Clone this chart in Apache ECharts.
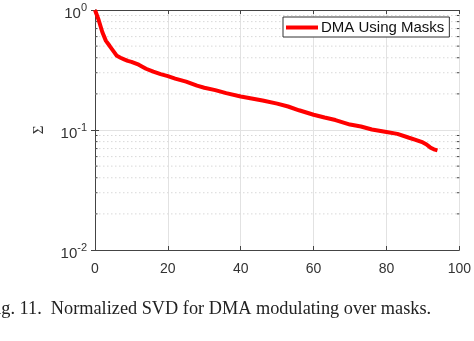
<!DOCTYPE html>
<html><head><meta charset="utf-8">
<script src="https://cdn.jsdelivr.net/npm/echarts@6/dist/echarts.min.js"></script>
<style>html,body{margin:0;padding:0;background:#fff}#c{width:474px;height:341px}</style>
</head><body><div id="c"></div>
<script>
var xVals = [0,1,2,3,4,5,6,7,8,9,10,12,14,16,18,20,22,25,28,30,33,36,40,43,46,50,53,56,60,63,66,70,73,76,80,83,86,88,90,91,92,93,94];
var yVals = [1.0,0.826,0.656,0.553,0.503,0.457,0.415,0.40,0.388,0.377,0.37,0.35,0.324,0.306,0.292,0.281,0.268,0.253,0.234,0.225,0.215,0.203,0.19,0.183,0.176,0.166,0.157,0.146,0.134,0.127,0.121,0.111,0.107,0.101,0.0963,0.0928,0.0866,0.0828,0.0787,0.0758,0.0716,0.069,0.0677];
var seriesName = 'DMA Using Masks';
var xTicks = [0,20,40,60,80,100];
var minorVals = [0.02,0.03,0.04,0.05,0.06,0.07,0.08,0.09,0.2,0.3,0.4,0.5,0.6,0.7,0.8,0.9];
var yLabel = 'Σ';
var caption = 'Fig. 11.  Normalized SVD for DMA modulating over masks.';

var chart = echarts.init(document.getElementById('c'));
var data = xVals.map(function(x,i){return [x,yVals[i]];});
var expMap = {'1':'0','0.1':'-1','0.01':'-2'};
var labelStyle = {color:'#333', fontFamily:'Arial, Liberation Sans', fontSize:14};
chart.setOption({
  animation:false,
  grid:{left:95, right:14, top:10, bottom:91},
  legend:{
    data:[seriesName], left:283, top:17, orient:'vertical',
    padding:[3,5,2,3], itemGap:0, itemWidth:32, itemHeight:4, icon:'rect',
    borderColor:'#333', borderWidth:1, backgroundColor:'#fff',
    textStyle:{fontFamily:'Arial, Liberation Sans', fontSize:15, color:'#111', padding:[0,0,0,-2]}
  },
  xAxis:[{
    type:'value', min:0, max:100, interval:20,
    axisLine:{lineStyle:{color:'#444', width:1}},
    axisTick:{inside:true, length:4, lineStyle:{color:'#444'}},
    axisLabel:Object.assign({margin:12}, labelStyle),
    splitLine:{show:true, lineStyle:{color:'#e2e2e2', width:1}}
  },{
    type:'value', min:0, max:100, interval:20, position:'top',
    axisLine:{lineStyle:{color:'#444', width:1}},
    axisTick:{inside:true, length:4, lineStyle:{color:'#444'}},
    axisLabel:{show:false}, splitLine:{show:false}
  }],
  yAxis:[{
    type:'log', min:0.01, max:1, logBase:10,
    name:yLabel, nameLocation:'middle', nameGap:48, nameRotate:90,
    nameTextStyle:{fontFamily:'Liberation Serif', fontSize:15, color:'#333'},
    axisLine:{show:true, lineStyle:{color:'#444', width:1}},
    axisTick:{inside:true, length:4, lineStyle:{color:'#444'}},
    axisLabel:{margin:8, formatter:function(v){
      var k = String(+v.toPrecision(3));
      return '{b|10}{s|'+(expMap[k]||'')+'}';
    }, rich:{
      b:{fontFamily:'Arial, Liberation Sans', fontSize:15, color:'#333', padding:[8,0,0,0]},
      s:{fontFamily:'Arial, Liberation Sans', fontSize:11, color:'#333', padding:[0,0,4,0]}
    }},
    splitLine:{show:true, lineStyle:{color:'#e2e2e2', width:1}}
  },{
    type:'log', min:0.01, max:1, logBase:10, position:'right',
    axisLine:{show:true, lineStyle:{color:'#444', width:1}},
    axisTick:{inside:true, length:4, lineStyle:{color:'#444'}},
    axisLabel:{show:false}, splitLine:{show:false}
  }],
  series:[{
    name:seriesName, type:'line', data:data, showSymbol:false, symbol:'none',
    lineStyle:{color:'#ff0000', width:4}, itemStyle:{color:'#ff0000'}, z:5
  },{
    type:'custom', silent:true, z:1,
    data:minorVals.map(function(v){return [v];}),
    renderItem:function(params, api){
      var v = api.value(0);
      var p0 = api.coord([0, v]);
      var p1 = api.coord([100, v]);
      return {type:'group', children:[
        {type:'line', shape:{x1:p0[0], y1:p0[1], x2:p1[0], y2:p1[1]},
         style:{stroke:'#d8d8d8', lineWidth:1, lineDash:[1.5,2.5]}},
        {type:'line', shape:{x1:p0[0], y1:p0[1], x2:p0[0]+2.5, y2:p0[1]},
         style:{stroke:'#444', lineWidth:1}},
        {type:'line', shape:{x1:p1[0]-2.5, y1:p1[1], x2:p1[0], y2:p1[1]},
         style:{stroke:'#444', lineWidth:1}}
      ]};
    },
    encode:{y:0}
  }],
  graphic:[{
    type:'text', left:-14, top:300,
    style:{text:caption, font:'18.3px "Liberation Serif", "Times New Roman", serif', fill:'#222'}
  }]
});
</script></body></html>
